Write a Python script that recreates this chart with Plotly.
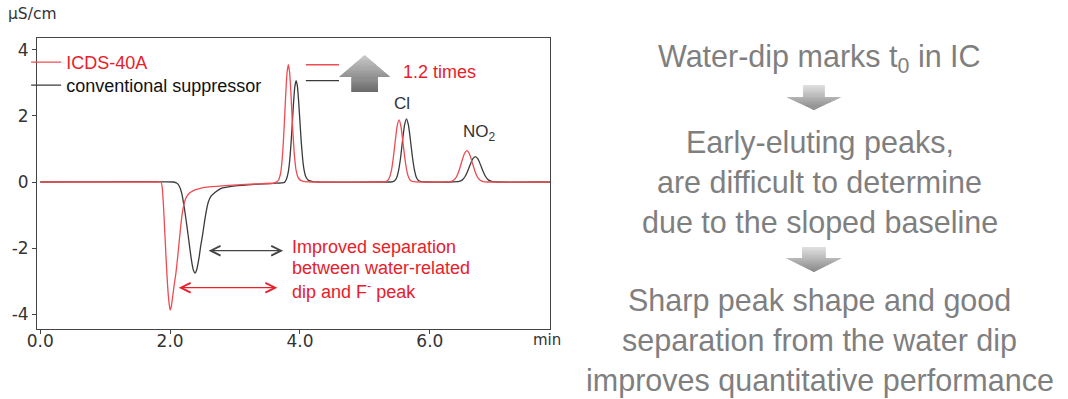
import plotly.graph_objects as go

# ---------------- data ----------------
series_names = ["ICDS-40A", "conventional suppressor"]

red_time = [0.00, 1.80, 1.86, 1.88, 1.90, 1.92, 1.94, 1.96, 1.98, 2.00, 2.02, 2.04, 2.06, 2.09, 2.12, 2.15,
            2.18, 2.21, 2.24, 2.28, 2.35, 2.45, 2.60, 2.90, 3.30, 3.60, 3.64, 3.67, 3.70, 3.72, 3.74, 3.76,
            3.78, 3.80, 3.82, 3.84, 3.86, 3.88, 3.90, 3.92, 3.94, 3.97, 4.01, 4.08, 4.20, 5.20, 5.31, 5.345,
            5.375, 5.405, 5.435, 5.465, 5.495, 5.525, 5.555, 5.585, 5.615, 5.645, 5.675, 5.705, 5.75, 5.85,
            6.10, 6.32, 6.37, 6.41, 6.45, 6.49, 6.53, 6.57, 6.61, 6.65, 6.69, 6.73, 6.77, 6.82, 6.90, 7.85]
red_signal = [0, 0, 0, -0.2, -0.8, -1.6, -2.4, -3.1, -3.6, -3.88, -3.75, -3.45, -3.15, -2.75, -2.2, -1.6,
              -1.05, -0.7, -0.5, -0.37, -0.27, -0.2, -0.15, -0.1, -0.06, -0.03, 0.01, 0.06, 0.25, 0.56, 1.09, 1.82,
              2.64, 3.30, 3.55, 3.32, 2.7, 1.9, 1.2, 0.68, 0.35, 0.14, 0.05, 0.01, 0, 0, 0.005, 0.036,
              0.12, 0.32, 0.70, 1.21, 1.68, 1.88, 1.68, 1.21, 0.72, 0.34, 0.13, 0.04, 0.01, 0,
              0, 0.013, 0.06, 0.16, 0.35, 0.61, 0.85, 0.95, 0.85, 0.61, 0.35, 0.16, 0.06, 0.013, 0, 0]

black_time = [0.00, 2.05, 2.10, 2.14, 2.18, 2.22, 2.26, 2.29, 2.32, 2.34, 2.36, 2.385, 2.41, 2.445, 2.47, 2.50,
              2.53, 2.56, 2.59, 2.63, 2.70, 2.78, 3.00, 3.30, 3.60, 3.76, 3.79, 3.82, 3.84, 3.86, 3.88, 3.90,
              3.92, 3.94, 3.96, 3.98, 4.00, 4.02, 4.04, 4.06, 4.09, 4.13, 4.20, 4.30, 5.30, 5.42, 5.46, 5.49,
              5.52, 5.55, 5.58, 5.61, 5.64, 5.67, 5.70, 5.73, 5.76, 5.79, 5.82, 5.87, 5.95, 6.30, 6.45, 6.50,
              6.54, 6.58, 6.62, 6.66, 6.70, 6.74, 6.78, 6.82, 6.86, 6.90, 6.95, 7.02, 7.85]
black_signal = [0, 0, -0.03, -0.12, -0.35, -0.8, -1.35, -1.8, -2.25, -2.5, -2.68, -2.76, -2.65, -2.3, -1.95, -1.6,
                -1.2, -0.85, -0.6, -0.43, -0.3, -0.2, -0.12, -0.07, -0.04, -0.01, 0.085, 0.31, 0.62, 1.11, 1.73, 2.38,
                2.88, 3.07, 2.9, 2.42, 1.8, 1.2, 0.72, 0.4, 0.16, 0.05, 0.01, 0, 0, 0.005, 0.046, 0.14,
                0.37, 0.75, 1.27, 1.72, 1.91, 1.72, 1.28, 0.78, 0.39, 0.15, 0.05, 0.01, 0, 0, 0.016, 0.065,
                0.16, 0.32, 0.52, 0.70, 0.77, 0.70, 0.52, 0.32, 0.16, 0.065, 0.016, 0, 0]

x_tick_vals = [0, 2, 4, 6]
x_tick_text = ["0.0", "2.0", "4.0", "6.0"]
y_tick_vals = [-4, -2, 0, 2, 4]
y_tick_text = ["-4", "-2", "0", "2", "4"]

peak_heights = [3.55, 3.07]          # first peak, red / black
peak_labels = ["Cl", "NO<sub>2</sub>"]
ratio_label = "1.2 times"
separation_lines = ["Improved separation", "between water-related", "dip and F<sup>-</sup> peak"]
right_texts = ["Water-dip marks t<sub>0</sub> in IC",
               "Early-eluting peaks,",
               "are difficult to determine",
               "due to the sloped baseline",
               "Sharp peak shape and good",
               "separation from the water dip",
               "improves quantitative performance"]

# ---------------- styles ----------------
RED_LINE = "#ee4c52"
BLACK_LINE = "#3a3a3a"
RED_TEXT = "#e8202a"
GRAY_TEXT = "#7f7f7f"
W, H = 1068, 399
L, R, T, B = 31, 550, 38, 329   # plot area in pixels


def pp(px, py):
    """pixel -> paper coordinates"""
    return (px - L) / (R - L), (B - py) / (B - T)


def lerp_color(c0, c1, f):
    return "rgb(%d,%d,%d)" % tuple(round(a + (b - a) * f) for a, b in zip(c0, c1))


def arrow_shapes(cx, stem_half, head_half, y_stem_end, y_head_base, y_apex, c_top, c_bot, n=14):
    """Gradient block arrow (up or down) built from horizontal slices, pixel coords."""
    shapes = []
    y_min = min(y_stem_end, y_head_base, y_apex)
    y_max = max(y_stem_end, y_head_base, y_apex)

    def half(y, region):
        if region == "stem":
            return stem_half
        return head_half * abs(y_apex - y) / abs(y_apex - y_head_base)

    for region, a, b in (("stem", y_stem_end, y_head_base), ("head", y_head_base, y_apex)):
        for i in range(n):
            ya = a + (b - a) * i / n
            yb = a + (b - a) * (i + 1) / n
            top, bot = min(ya, yb), max(ya, yb)
            top_e = top
            if region == "head" and y_apex < y_head_base:
                bot_e = min(bot + 0.6, y_head_base)
            else:
                bot_e = min(bot + 0.6, y_max)
            wa, wb = half(top_e, region), half(bot_e, region)
            pts = [(cx - wa, top_e), (cx + wa, top_e), (cx + wb, bot_e), (cx - wb, bot_e)]
            path = "M " + " L ".join("%.5f,%.5f" % pp(x, y) for x, y in pts) + " Z"
            f = ((top + bot) / 2 - y_min) / (y_max - y_min)
            shapes.append(dict(type="path", path=path, xref="paper", yref="paper",
                               fillcolor=lerp_color(c_top, c_bot, f), line=dict(width=0), layer="above"))
    return shapes


fig = go.Figure()
fig.add_trace(go.Scatter(x=black_time, y=black_signal, mode="lines", legend="legend2",
                         name="<span style='color:#111'>%s</span>" % series_names[1],
                         line=dict(color=BLACK_LINE, width=1.3, shape="spline", smoothing=0.5)))
fig.add_trace(go.Scatter(x=red_time, y=red_signal, mode="lines", legend="legend",
                         name="<span style='color:%s'>%s</span>" % (RED_TEXT, series_names[0]),
                         line=dict(color=RED_LINE, width=1.3, shape="spline", smoothing=0.5)))

axis_common = dict(showline=True, mirror=True, linecolor="#444", linewidth=1, showgrid=False, zeroline=False,
                   ticks="outside", ticklen=4, tickcolor="#444",
                   tickfont=dict(family="DejaVu Sans", size=17, color="#333"))

legend_common = dict(xanchor="left", yanchor="top", bgcolor="rgba(0,0,0,0)",
                     font=dict(family="Liberation Sans", size=18, color="#111"), itemwidth=30)

fig.update_layout(
    width=W, height=H,
    margin=dict(l=L, r=W - R, t=T, b=H - B, pad=0),
    paper_bgcolor="white", plot_bgcolor="white",
    xaxis=dict(range=[-0.05, 7.85], tickvals=x_tick_vals, ticktext=x_tick_text, ticklabelstandoff=-7,
               **axis_common),
    yaxis=dict(range=[-4.45, 4.36], tickvals=y_tick_vals, ticktext=y_tick_text, **axis_common),
    showlegend=True,
    legend=dict(x=pp(20, 0)[0], y=pp(0, 44)[1], **legend_common),
    legend2=dict(x=pp(20, 0)[0], y=pp(0, 67)[1], **legend_common),
)

ann = []
ux, uy = pp(0, 14)
ann.append(dict(x=ux, y=uy, xref="paper", yref="paper", text="μS/cm", showarrow=False, xanchor="left", yanchor="middle",
                font=dict(family="DejaVu Sans", size=15.5, color="#333")))
mx, my = pp(547, 340)
ann.append(dict(x=mx, y=my, xref="paper", yref="paper", text="min", showarrow=False, xanchor="center", yanchor="middle",
                font=dict(family="DejaVu Sans", size=15, color="#333")))

ann.append(dict(x=5.57, y=2.39, xref="x", yref="y", text=peak_labels[0], showarrow=False,
                font=dict(family="Liberation Sans", size=17, color="#333")))
ann.append(dict(x=6.76, y=1.47, xref="x", yref="y", text=peak_labels[1], showarrow=False,
                font=dict(family="Liberation Sans", size=17, color="#333")))
ann.append(dict(x=5.55, y=3.34, xref="x", yref="y", text=ratio_label, showarrow=False, xanchor="left",
                font=dict(family="Liberation Sans", size=18, color=RED_TEXT)))
for txt, yv in zip(separation_lines, [-1.96, -2.61, -3.27]):
    ann.append(dict(x=3.85, y=yv, xref="x", yref="y", text=txt, showarrow=False, xanchor="left", yanchor="middle",
                    font=dict(family="Liberation Sans", size=18, color=RED_TEXT)))
for (x0, x1, yv, col) in [(2.57, 3.74, -2.08, "#444"), (2.11, 3.65, -3.2, RED_TEXT)]:
    ann.append(dict(x=x1, y=yv, ax=x0, ay=yv, xref="x", yref="y", axref="x", ayref="y", text="",
                    showarrow=True, arrowhead=5, startarrowhead=5, arrowside="end+start",
                    arrowsize=1.6, startarrowsize=1.6, arrowwidth=1.2, arrowcolor=col))

for txt, py in zip(right_texts, [59, 142, 182, 222, 300, 340, 380]):
    tx, ty = pp(823, py)
    ann.append(dict(x=tx, y=ty, xref="paper", yref="paper", text=txt, showarrow=False, xanchor="center",
                    yanchor="middle", font=dict(family="Liberation Sans", size=30.5, color=GRAY_TEXT)))

fig.update_layout(annotations=ann)

shapes = []
shapes.append(dict(type="line", xref="x", yref="y", x0=4.09, x1=4.60, y0=peak_heights[0], y1=peak_heights[0],
                   line=dict(color=RED_LINE, width=1.4)))
shapes.append(dict(type="line", xref="x", yref="y", x0=4.09, x1=4.60, y0=peak_heights[1], y1=peak_heights[1],
                   line=dict(color=BLACK_LINE, width=1.4)))
shapes += arrow_shapes(362.5, 13.5, 26, 92, 77, 55, (200, 200, 200), (105, 105, 105))
shapes += arrow_shapes(817, 11, 28, 85, 97, 110, (225, 225, 225), (135, 135, 135))
shapes += arrow_shapes(817, 12, 28.5, 247, 258, 272, (225, 225, 225), (135, 135, 135))
fig.update_layout(shapes=shapes)

fig.write_html("out.html", config={"displayModeBar": False},
               post_script="document.body.style.margin='0';")
